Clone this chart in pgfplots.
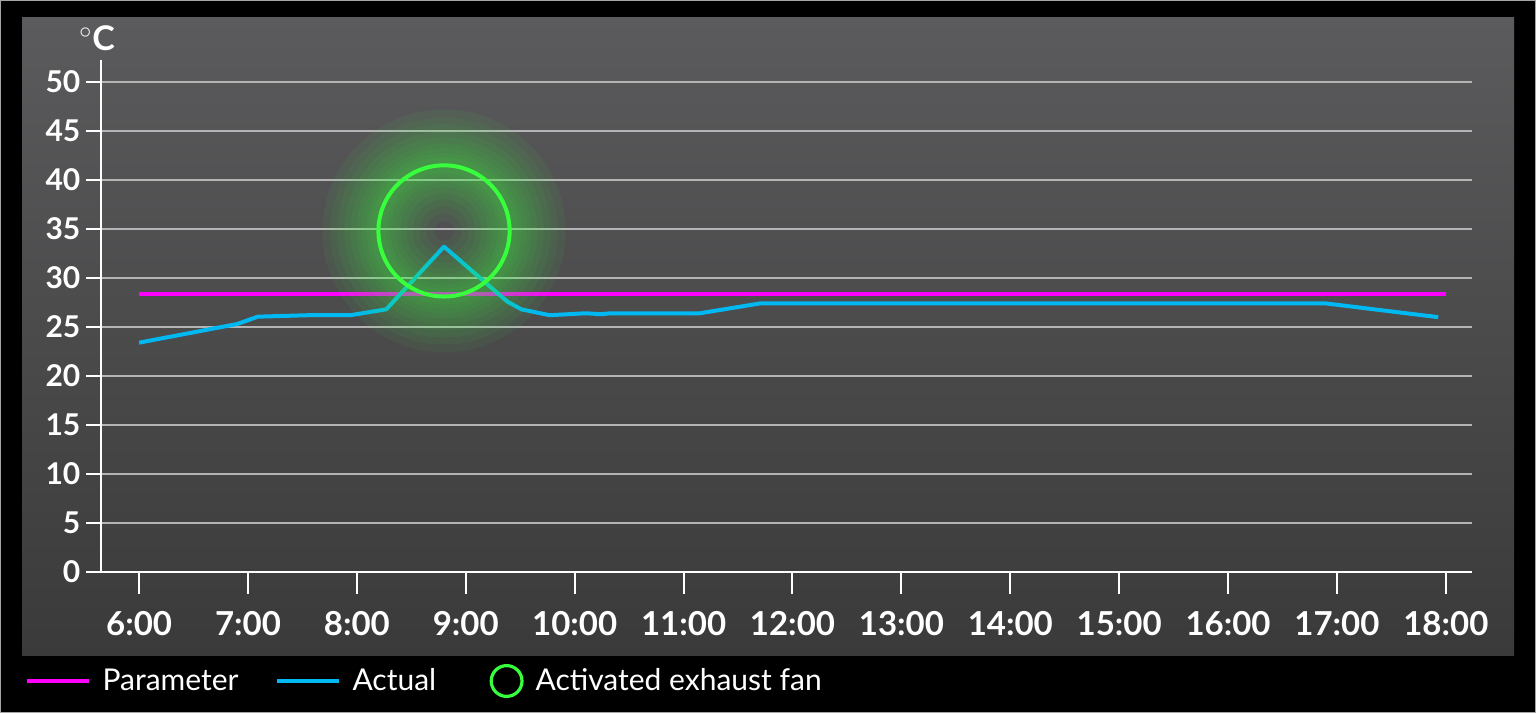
\documentclass[border=0pt]{standalone}
\usepackage{fontspec}
\setmainfont{Lato}
\usepackage{pgfplots}
\pgfplotsset{compat=1.18}
\definecolor{paramc}{HTML}{FF00FF}
\definecolor{actualc}{HTML}{00B8F2}
\definecolor{fanc}{HTML}{38FF3C}
\definecolor{panelTop}{HTML}{5B5B5D}
\definecolor{panelBot}{HTML}{3A3A3A}
\definecolor{gridc}{HTML}{B4B4B4}
\pgfplotsset{
    glow/.style={forget plot, only marks, mark=o, mark size=32.8pt, fanc, opacity=0.055,
        mark options={line width=#1}},
}
\begin{document}
\begin{tikzpicture}
% 1 px of the reference = 0.5pt
\path[use as bounding box] (0pt,0pt) rectangle (768pt,356.5pt);
\fill[black] (0pt,0pt) rectangle (768pt,356.5pt);
\draw[gray!70, line width=0.6pt] (0.3pt,0.3pt) rectangle (767.7pt,356.2pt);
\shade[top color=panelTop, bottom color=panelBot] (11pt,29pt) rectangle (757pt,347.5pt);

\begin{axis}[
    at={(50.5pt,70.5pt)}, anchor=south west,
    scale only axis, width=685.5pt, height=256pt,
    xmin=5.65, xmax=18.24, ymin=0, ymax=52.24,
    axis x line*=bottom, axis y line*=left,
    axis line style={white, line width=1.3pt, -},
    tick align=outside,
    xtick={6,...,18},
    xticklabels={6:00,7:00,8:00,9:00,10:00,11:00,12:00,13:00,14:00,15:00,16:00,17:00,18:00},
    ytick={0,5,...,50},
    xtick style={white, line width=1pt, /pgfplots/major tick length=11pt},
    ytick style={white, line width=1pt, /pgfplots/major tick length=7.5pt},
    /pgf/number format/assume math mode=true,
    xticklabel style={white, font=\fontsize{16.5}{19}\selectfont\bfseries, yshift=-12pt},
    yticklabel style={white, font=\fontsize{15}{18}\selectfont\bfseries, xshift=-2.5pt},
    ymajorgrids, grid style={gridc, line width=0.8pt},
    ylabel={\textsuperscript{$\circ$}C},
    ylabel style={rotate=-90, at={(axis description cs:0,1)}, anchor=south, yshift=1pt, xshift=-2pt,
        white, font=\fontsize{17}{19}\selectfont\bfseries},
    legend columns=3,
    legend cell align=left,
    legend style={at={(axis description cs:-0.0560,-0.2129)}, anchor=west,
        draw=none, fill=none, inner sep=0pt, text=white,
        font=\fontsize{15}{18}\selectfont,
        /tikz/every even column/.append style={column sep=12pt},
        nodes={inner xsep=6pt}},
]
% soft glow around the fan circle
\addplot[glow=56pt] coordinates {(8.8,34.8)};
\addplot[glow=48pt] coordinates {(8.8,34.8)};
\addplot[glow=41pt] coordinates {(8.8,34.8)};
\addplot[glow=34pt] coordinates {(8.8,34.8)};
\addplot[glow=28pt] coordinates {(8.8,34.8)};
\addplot[glow=22pt] coordinates {(8.8,34.8)};
\addplot[glow=17pt] coordinates {(8.8,34.8)};
\addplot[glow=12pt] coordinates {(8.8,34.8)};
\addplot[glow=8pt] coordinates {(8.8,34.8)};

\addplot[paramc, line width=2pt,
    legend image code/.code={\draw[paramc, line width=2pt] (0pt,0pt) -- (31pt,0pt);}]
    coordinates {(6,28.4) (18,28.4)};
\addlegendentry{Parameter}

\addplot[actualc, line width=2pt, line join=round,
    legend image code/.code={\draw[actualc, line width=2pt] (0pt,0pt) -- (31pt,0pt);}]
    coordinates {
    (6.0,23.4) (6.9,25.3) (7.09,26.05) (7.55,26.2) (7.94,26.2) (8.27,26.8)
    (8.80,33.2) (9.38,27.6) (9.51,26.8) (9.77,26.2) (10.1,26.4) (10.24,26.3)
    (10.33,26.4) (11.15,26.4) (11.7,27.4) (16.9,27.4) (17.93,26.0)};
\addlegendentry{Actual}

\addplot[only marks, mark=o, mark size=32.8pt, fanc, mark options={line width=2pt},
    legend image code/.code={\path (0pt,0pt); \draw[fanc, line width=1.6pt] (17pt,0pt) circle (7.7pt);}]
    coordinates {(8.8,34.8)};
\addlegendentry{Activated exhaust fan}
\end{axis}
\end{tikzpicture}
\end{document}
